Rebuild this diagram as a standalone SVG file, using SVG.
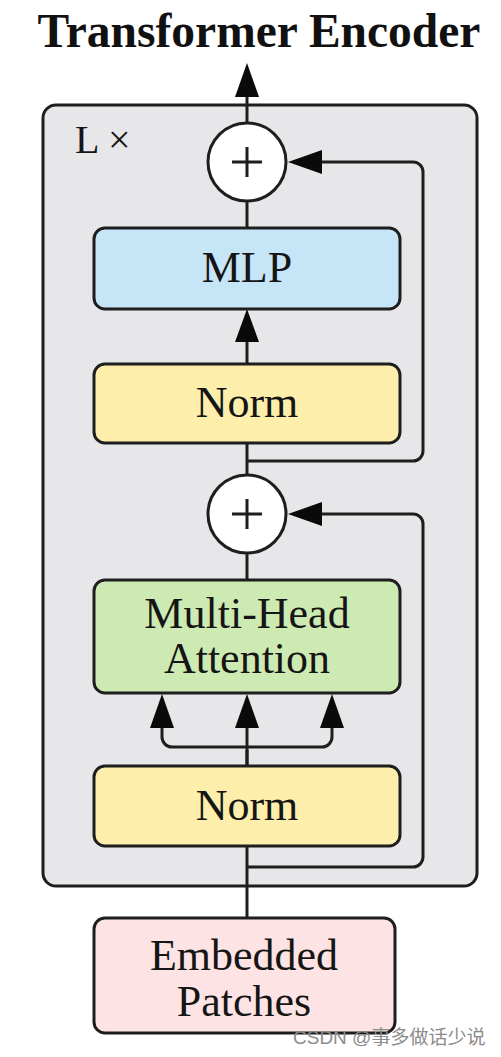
<svg xmlns="http://www.w3.org/2000/svg" width="501" height="1057" viewBox="0 0 501 1057">
<defs>
<style>
.box{stroke:#1e1e1e;stroke-width:3}
.t{font-family:"Liberation Serif","Times New Roman",serif;font-size:44px;fill:#151515;text-anchor:middle}
.ln{fill:none;stroke:#1e1e1e;stroke-width:3}
.ah{fill:#0a0a0a}
</style>
</defs>
<rect width="501" height="1057" fill="#ffffff"/>
<text x="259" y="47" font-family="'Liberation Serif','Times New Roman',serif" font-size="47.5" font-weight="bold" fill="#111" text-anchor="middle">Transformer Encoder</text>
<g id="encoder-block">
<rect x="43" y="105" width="434" height="781" rx="13" fill="#e7e7ea" class="box"/>
<text x="75" y="153" font-family="'Liberation Serif','Times New Roman',serif" font-size="40" fill="#151515">L ×</text>
</g>
<g id="connectors">
<path class="ln" d="M247 918 V750"/>
<path class="ln" d="M247 766 V700"/>
<path class="ln" d="M332 720 V737 a10 10 0 0 1 -10 10 H172 a10 10 0 0 1 -10 -10 V720"/>
<polygon class="ah" points="162,694 150,728 174,728"/>
<polygon class="ah" points="247,694 235,728 259,728"/>
<polygon class="ah" points="332,694 320,728 344,728"/>
<path class="ln" d="M247 867 H413 a10 10 0 0 0 10 -10 V524 a10 10 0 0 0 -10 -10 H318"/>
<polygon class="ah" points="288,514 322,502 322,526"/>
<path class="ln" d="M247 553 V580"/>
<path class="ln" d="M247 443 V475"/>
<path class="ln" d="M247 461 H413 a10 10 0 0 0 10 -10 V172 a10 10 0 0 0 -10 -10 H318"/>
<polygon class="ah" points="288,162 322,150 322,174"/>
<path class="ln" d="M247 364 V335"/>
<polygon class="ah" points="247,309 235,342 259,342"/>
<path class="ln" d="M247 228 V201"/>
<path class="ln" d="M247 123 V90"/>
<polygon class="ah" points="247,63 235,97 259,97"/>
</g>
<g id="embedded-patches">
<rect x="94" y="918" width="301" height="115" rx="11" fill="#fde3e3" class="box"/>
<text class="t" x="244" y="970">Embedded</text>
<text class="t" x="244" y="1016">Patches</text>
</g>
<g id="norm-2">
<rect x="94" y="766" width="306" height="80" rx="11" fill="#fdeeab" class="box"/>
<text class="t" x="247" y="820">Norm</text>
</g>
<g id="multi-head-attention">
<rect x="94" y="580" width="306" height="113" rx="11" fill="#cdeab2" class="box"/>
<text class="t" x="247" y="628">Multi-Head</text>
<text class="t" x="247" y="673">Attention</text>
</g>
<g id="add-1">
<circle cx="247" cy="514" r="39" fill="#ffffff" class="box"/>
<path class="ln" d="M232 514 H262 M247 499 V529"/>
</g>
<g id="norm-1">
<rect x="94" y="364" width="306" height="79" rx="11" fill="#fdeeab" class="box"/>
<text class="t" x="247" y="417">Norm</text>
</g>
<g id="mlp">
<rect x="94" y="228" width="306" height="81" rx="11" fill="#c6e5f7" class="box"/>
<text class="t" x="247" y="282">MLP</text>
</g>
<g id="add-2">
<circle cx="247" cy="162" r="39" fill="#ffffff" class="box"/>
<path class="ln" d="M232 162 H262 M247 147 V177"/>
</g>
<text x="293" y="1044" font-family="'Liberation Sans','Noto Sans CJK SC',sans-serif" font-size="19" fill="#8c8c8c">CSDN @事多做话少说</text>
</svg>
